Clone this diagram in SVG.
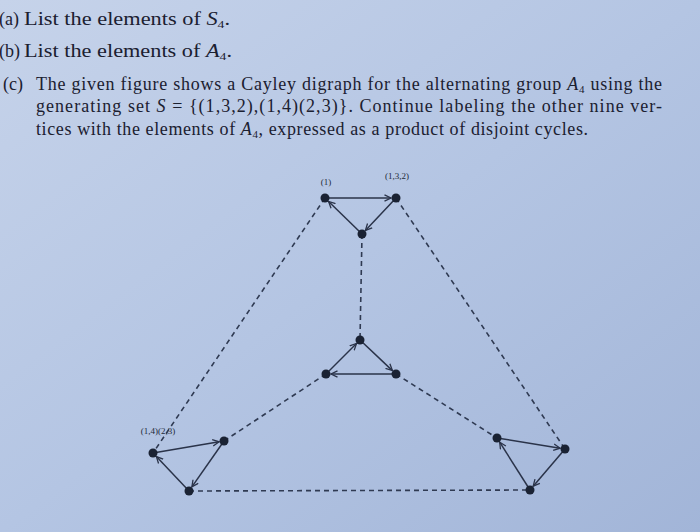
<svg xmlns="http://www.w3.org/2000/svg" width="700" height="532" viewBox="0 0 700 532">
<defs>
<linearGradient id="bg" x1="0" y1="0" x2="1" y2="1">
<stop offset="0" stop-color="#c6d3ea"/>
<stop offset="0.5" stop-color="#b4c5e3"/>
<stop offset="1" stop-color="#a2b5d8"/>
</linearGradient>
<marker id="arr" markerUnits="userSpaceOnUse" markerWidth="10" markerHeight="10" refX="7" refY="4" orient="auto">
<path d="M0.5,0.8 L7,4 L0.5,7.2" fill="none" stroke="#2a3349" stroke-width="1.3"/>
</marker>
<style>
.q{font-family:"Liberation Serif","Times New Roman",serif;font-size:18px;fill:#1b2030}
.lb{font-family:"Liberation Serif","Times New Roman",serif;font-size:9px;fill:#232a3a}
.e{stroke:#2a3349;stroke-width:1.5;fill:none;marker-end:url(#arr)}
.d{stroke:#2f3a52;stroke-width:1.6;fill:none;stroke-dasharray:5 4}
.n{fill:#1a2233}
</style>
</defs>
<rect width="700" height="532" fill="url(#bg)"/>
<g id="question">
<text class="q" x="-1" y="25">(a)</text>
<text class="q" x="24" y="25" textLength="206" lengthAdjust="spacingAndGlyphs">List the elements of <tspan font-style="italic">S</tspan><tspan font-size="11" dy="3">4</tspan><tspan dy="-3">.</tspan></text>
<text class="q" x="-1" y="57">(b)</text>
<text class="q" x="24" y="57" textLength="208" lengthAdjust="spacingAndGlyphs">List the elements of <tspan font-style="italic">A</tspan><tspan font-size="11" dy="3">4</tspan><tspan dy="-3">.</tspan></text>
<text class="q" x="3" y="90">(c)</text>
<text class="q" x="36" y="90" textLength="626" lengthAdjust="spacing">The given figure shows a Cayley digraph for the alternating group <tspan font-style="italic">A</tspan><tspan font-size="11" dy="3">4</tspan><tspan dy="-3"> using the</tspan></text>
<text class="q" x="36" y="112" textLength="626" lengthAdjust="spacing">generating set <tspan font-style="italic">S</tspan> = {(1,3,2),(1,4)(2,3)}. Continue labeling the other nine ver-</text>
<text class="q" x="36" y="135" textLength="552" lengthAdjust="spacing">tices with the elements of <tspan font-style="italic">A</tspan><tspan font-size="11" dy="3">4</tspan><tspan dy="-3">, expressed as a product of disjoint cycles.</tspan></text>
</g>
<g id="connectors">
<line class="d" x1="325" y1="198" x2="153" y2="453"/>
<line class="d" x1="396" y1="198" x2="565" y2="449"/>
<line class="d" x1="362" y1="234" x2="360" y2="340"/>
<line class="d" x1="326" y1="374" x2="224" y2="441"/>
<line class="d" x1="396" y1="374" x2="497" y2="438"/>
<line class="d" x1="189" y1="491" x2="530" y2="490"/>
<line class="e" x1="325" y1="198" x2="391" y2="198"/>
<line class="e" x1="396" y1="198" x2="365.4" y2="230.4"/>
<line class="e" x1="362" y1="234" x2="328.6" y2="201.5"/>
<line class="e" x1="360" y1="340" x2="392.4" y2="370.6"/>
<line class="e" x1="396" y1="374" x2="331" y2="374"/>
<line class="e" x1="326" y1="374" x2="356.5" y2="343.5"/>
<line class="e" x1="153" y1="453" x2="219.1" y2="441.8"/>
<line class="e" x1="224" y1="441" x2="191.9" y2="486.9"/>
<line class="e" x1="189" y1="491" x2="156.4" y2="456.6"/>
<line class="e" x1="497" y1="438" x2="560.1" y2="448.2"/>
<line class="e" x1="565" y1="449" x2="533.2" y2="486.2"/>
<line class="e" x1="530" y1="490" x2="499.7" y2="442.2"/>
</g>
<g id="n-e"><circle class="n" cx="325" cy="198" r="4.5"/><text class="lb" x="326" y="185" text-anchor="middle">(1)</text></g>
<g id="n-132"><circle class="n" cx="396" cy="198" r="4.5"/><text class="lb" x="397" y="179" text-anchor="middle">(1,3,2)</text></g>
<g id="n-t3"><circle class="n" cx="362" cy="234" r="4.5"/></g>
<g id="n-m1"><circle class="n" cx="360" cy="340" r="4.5"/></g>
<g id="n-m2"><circle class="n" cx="326" cy="374" r="4.5"/></g>
<g id="n-m3"><circle class="n" cx="396" cy="374" r="4.5"/></g>
<g id="n-1423"><circle class="n" cx="153" cy="453" r="4.5"/><text class="lb" x="158" y="434" text-anchor="middle">(1,4)(2,3)</text></g>
<g id="n-l2"><circle class="n" cx="224" cy="441" r="4.5"/></g>
<g id="n-l3"><circle class="n" cx="189" cy="491" r="4.5"/></g>
<g id="n-r1"><circle class="n" cx="497" cy="438" r="4.5"/></g>
<g id="n-r2"><circle class="n" cx="565" cy="449" r="4.5"/></g>
<g id="n-r3"><circle class="n" cx="530" cy="490" r="4.5"/></g>
</svg>
